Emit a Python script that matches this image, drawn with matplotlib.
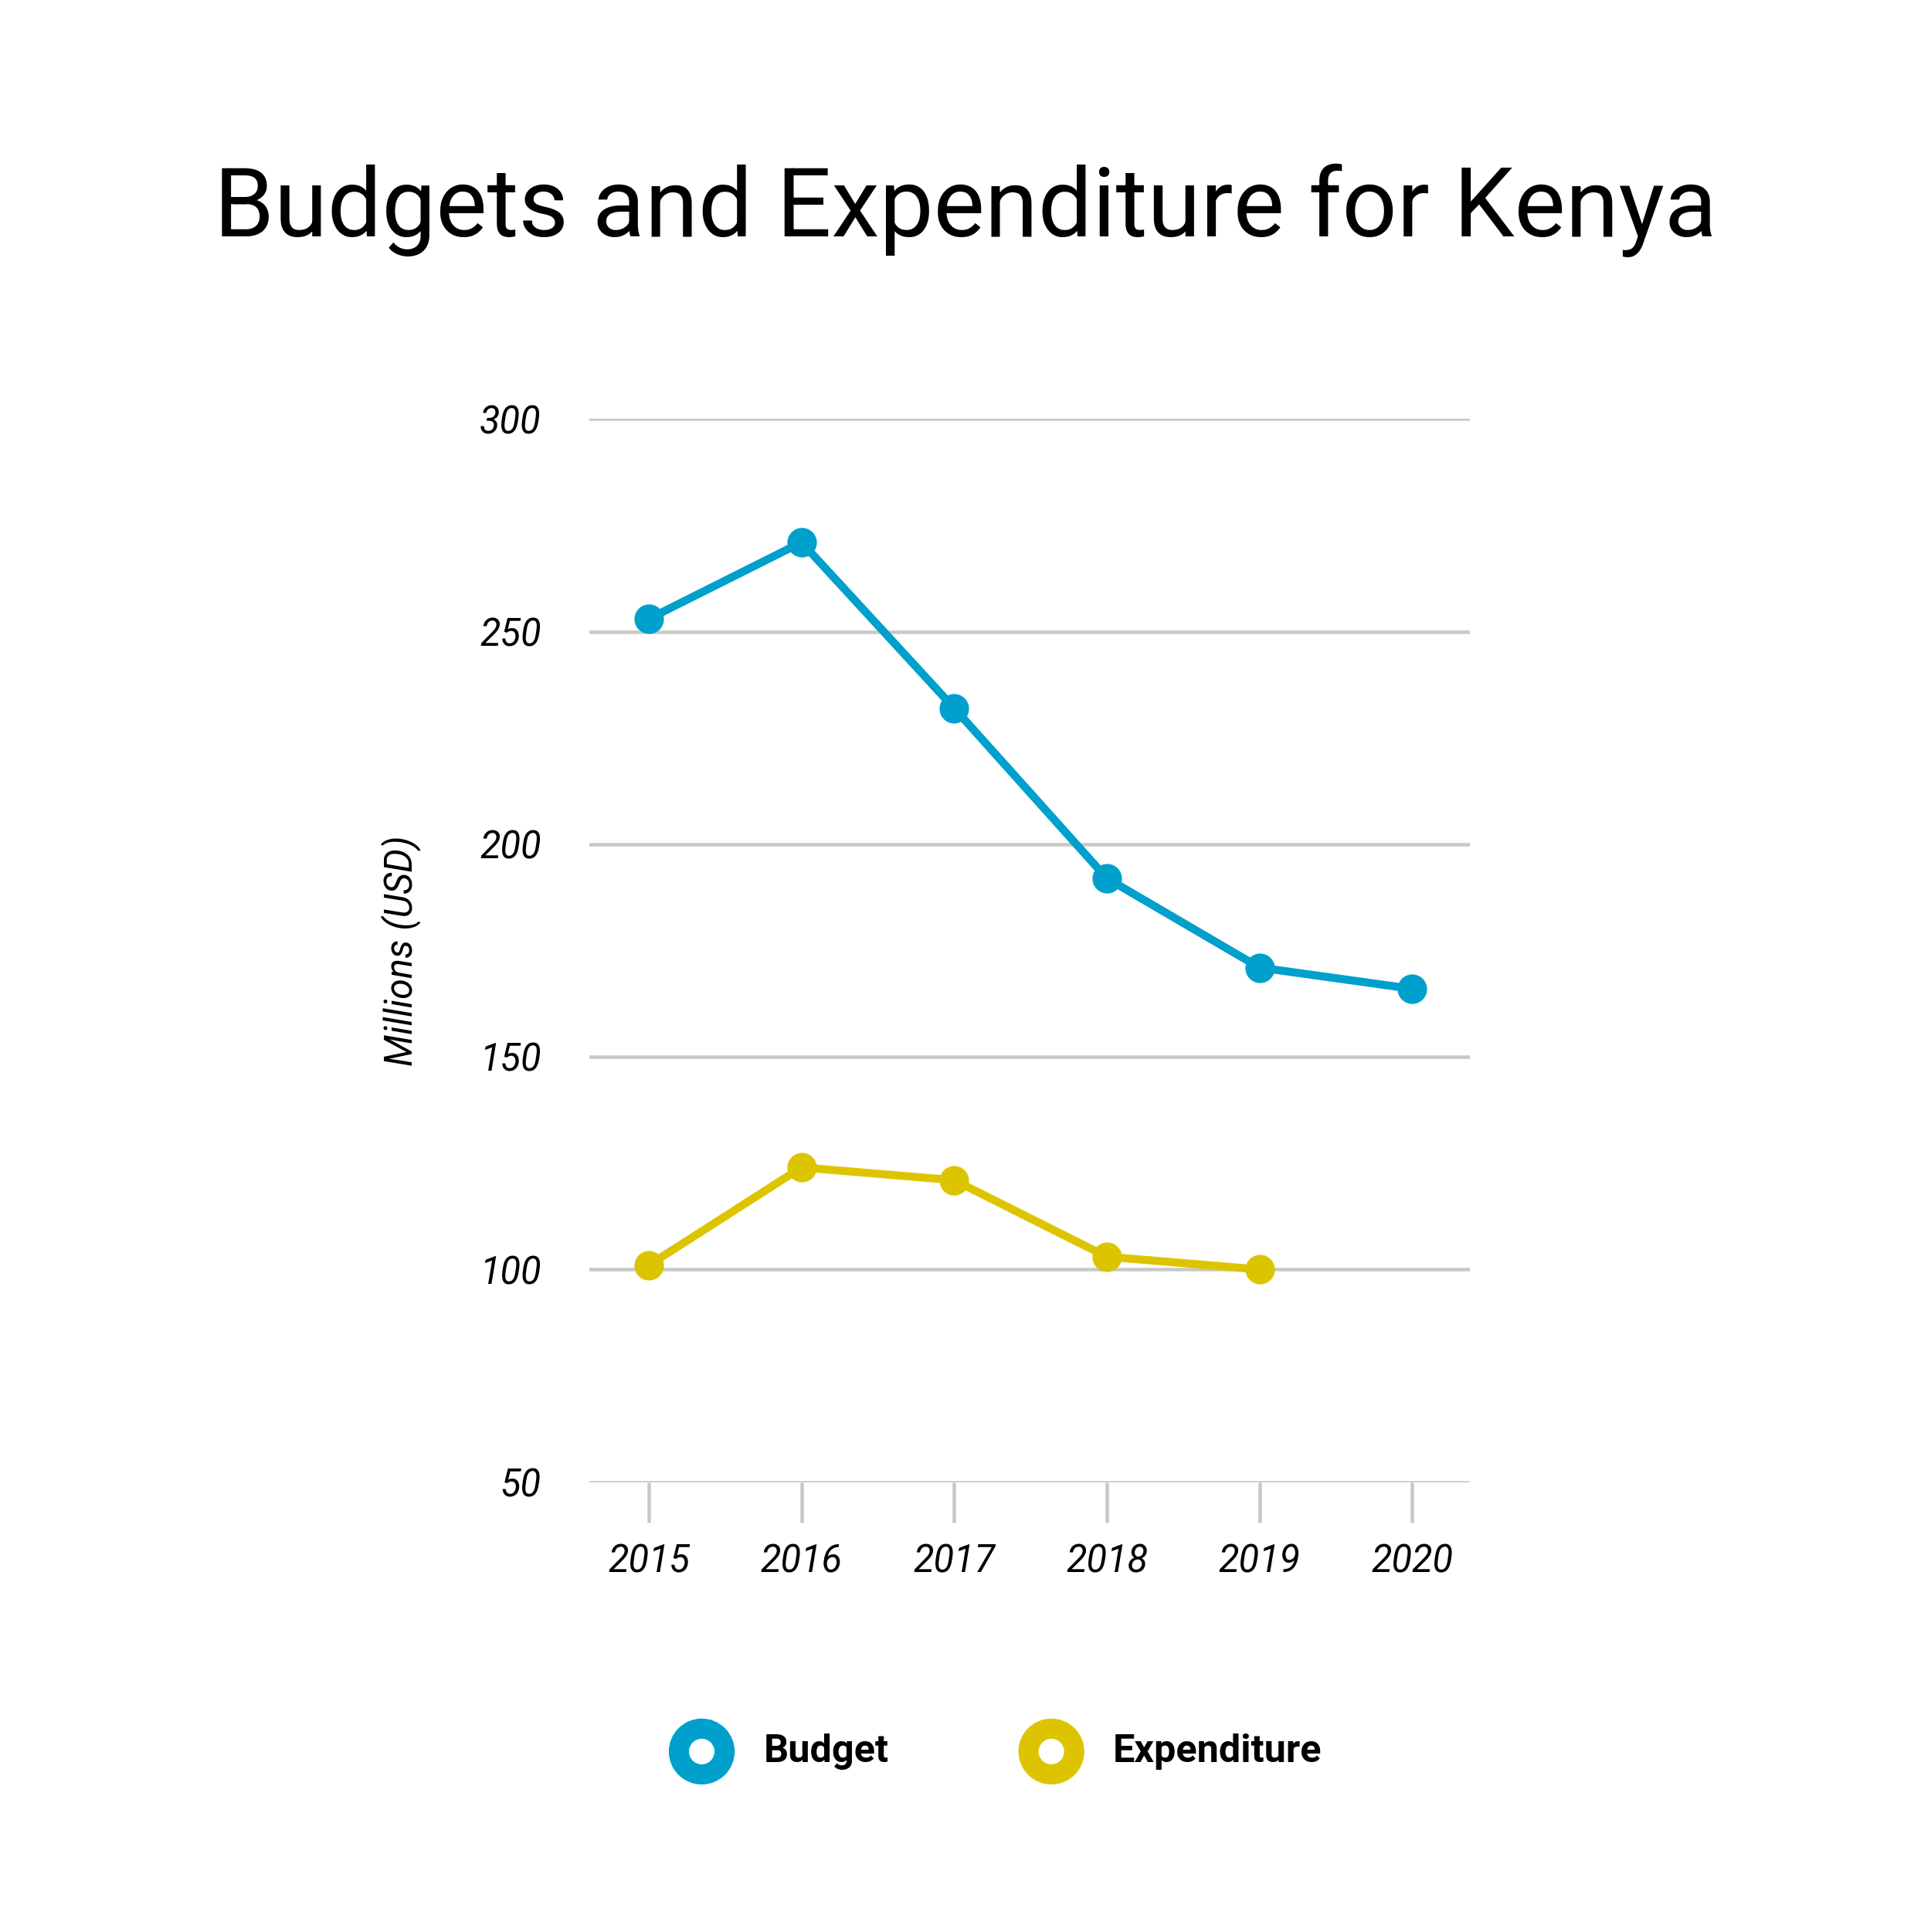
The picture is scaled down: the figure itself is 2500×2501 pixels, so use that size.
import matplotlib
matplotlib.use("Agg")
import matplotlib.pyplot as plt

years = [2015, 2016, 2017, 2018, 2019, 2020]
budget = [253, 271, 232, 192, 171, 166]
exp_years = [2015, 2016, 2017, 2018, 2019]
expenditure = [101, 124, 121, 103, 100]
yticks = [50, 100, 150, 200, 250, 300]
blue = "#00a0cc"
yellow = "#dcc500"

plt.rcParams['font.family'] = ['Roboto', 'DejaVu Sans']
W = 1563.0
fig = plt.figure(figsize=(10, 10.004), dpi=250)
ax = fig.add_axes([477/W, 1-1199/W, (1190-477)/W, (1199-339)/W])
ax.plot(years, budget, color=blue, lw=3, marker='o', ms=10, zorder=3, clip_on=False)
ax.plot(exp_years, expenditure, color=yellow, lw=3, marker='o', ms=10, zorder=3, clip_on=False)
ax.set_xlim(2014.61, 2020.38)
ax.set_ylim(50, 300)
ax.set_yticks(yticks)
ax.set_yticklabels([str(v) for v in yticks], style='italic', fontsize=14)
ax.set_xticks(years)
ax.set_xticklabels([str(v) for v in years], style='italic', fontsize=14)
ax.grid(axis='y', color='#c8c8c8', lw=1.3)
ax.set_axisbelow(True)
for s in ax.spines.values():
    s.set_visible(False)
ax.tick_params(axis='y', length=0, pad=18)
ax.tick_params(axis='x', length=15, width=1.3, color='#c8c8c8', pad=8)
ax.set_ylabel("Millions (USD)", style='italic', fontsize=14, labelpad=22)
fig.text(0.5, 1-170/W, "Budgets and Expenditure for Kenya", ha='center', va='center', fontsize=36)

for cx, col, lab in [(568, blue, "Budget"), (851, yellow, "Expenditure")]:
    fig.add_artist(matplotlib.patches.Circle((cx/W, 1-1417/W), 27/W, transform=fig.transFigure,
                   facecolor='white', edgecolor=col, lw=0))
    fig.add_artist(matplotlib.patches.Circle((cx/W, 1-1417/W), 18.5/W, transform=fig.transFigure,
                   facecolor='none', edgecolor=col, lw=7.5))
    fig.text((cx+50)/W, 1-1417/W, lab, ha='left', va='center', fontsize=14.5, fontweight='bold')

fig.savefig("out.png", dpi=250, facecolor='white')
